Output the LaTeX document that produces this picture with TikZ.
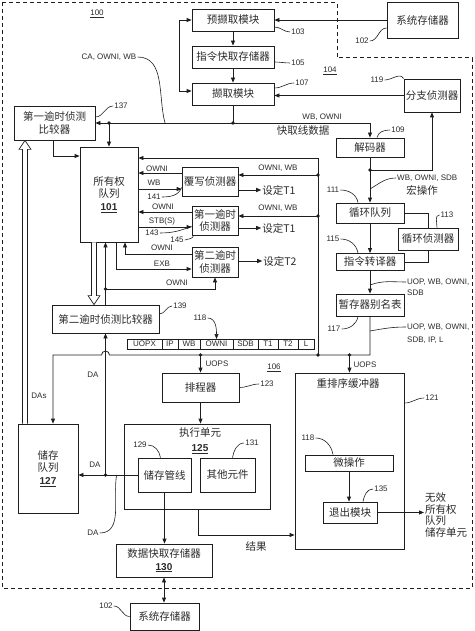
\documentclass[tikz,border=0pt]{standalone}
\usepackage{fontspec}
\setmainfont{Liberation Sans}
\newfontfamily\cjk{Noto Sans CJK SC}
\usepackage{tikz}
\usetikzlibrary{arrows.meta,calc,positioning}
\definecolor{linecolor}{HTML}{1E1E1E}
\definecolor{textcolor}{HTML}{2A2A2A}
\tikzstyle{unit} =[
    draw=linecolor,
    line width=0.8pt,
    rectangle,
    inner sep=1pt,
    text=textcolor,
    align=center,
    font=\cjk\fontsize{10.5}{12.5}\selectfont
    ]
\tikzstyle{cell} =[
    draw=linecolor,
    line width=0.6pt,
    rectangle,
    inner sep=0pt,
    outer sep=0pt,
    minimum height=10pt,
    text=textcolor,
    font=\fontsize{8}{9}\selectfont
    ]
\tikzstyle{sig} =[
    inner sep=1pt,
    text=textcolor,
    font=\fontsize{8}{9.5}\selectfont
    ]
\tikzstyle{zh} =[
    inner sep=1pt,
    text=textcolor,
    font=\cjk\fontsize{10.5}{11.5}\selectfont
    ]
\tikzstyle{wire} =[draw=linecolor, line width=0.8pt]
\tikzstyle{leader} =[draw=linecolor, line width=0.6pt]
\newcommand{\hollowarrow}[3]{% tail, tip, head offset
\draw[linecolor, line width=0.7pt, fill=white]
    ($(#1)+(-2.5pt,0)$) -- ($(#2)+(-2.5pt,#3)$) -- ($(#2)+(-6pt,#3)$) -- (#2)
    -- ($(#2)+(6pt,#3)$) -- ($(#2)+(2.5pt,#3)$) -- ($(#1)+(2.5pt,0)$);
}

\begin{document}
\begin{tikzpicture}[x=1pt, y=-1pt, >={Triangle[length=5pt,width=4pt]}]
\useasboundingbox (0,0) rectangle (474,631);

% outer regions
\draw[linecolor, line width=1pt, dash pattern=on 4pt off 3pt]
    (2,3) -- (337,3) -- (337,58) -- (472,58) -- (472,588) -- (2,588) -- cycle;
\node[sig] (reg100) at (97,14) {\underline{100}};
\node[sig] (reg104) at (330,71) {\underline{104}};
\node[sig] (reg106) at (274,368) {\underline{106}};

% front end
\node[unit, minimum width=82pt, minimum height=22pt] (prefetch) at (233,20) {预撷取模块};
\node[unit, minimum width=71pt, minimum height=36pt] (sysmemtop) at (422.5,20) {系统存储器};
\node[unit, minimum width=82pt, minimum height=22pt] (icache) at (233,57) {指令快取存储器};
\node[unit, minimum width=82pt, minimum height=22pt] (fetch) at (233,94) {撷取模块};
\node[unit, minimum width=56pt, minimum height=33pt] (branch) at (432,95.5) {分支侦测器};
\node[unit, minimum width=68pt, minimum height=19pt] (decoder) at (370,147.5) {解码器};
\node[unit, minimum width=68pt, minimum height=20pt] (loopq) at (370,213) {循环队列};
\node[unit, minimum width=60pt, minimum height=22pt] (loopdet) at (428,239) {循环侦测器};
\node[unit, minimum width=68pt, minimum height=17pt] (xlat) at (370,262) {指令转译器};
\node[unit, minimum width=68pt, minimum height=22pt] (rat) at (370,305) {暂存器别名表};

% ownership queue and detectors
\node[unit, minimum width=81pt, minimum height=34pt] (cmpone) at (54.5,123) {第一逾时侦测\\比较器};
\node[unit, minimum width=58pt, minimum height=95pt] (ownq) at (109,194.5) {所有权\\队列\\{\normalfont\bfseries\fontsize{10}{12.5}\selectfont\underline{101}}};
\node[unit, minimum width=56pt, minimum height=29pt] (overwr) at (210,181.5) {覆写侦测器};
\node[unit, minimum width=46pt, minimum height=29pt] (tmoone) at (215,220.5) {第一逾时\\侦测器};
\node[unit, minimum width=46pt, minimum height=30pt] (tmotwo) at (215,262) {第二逾时\\侦测器};
\node[unit, minimum width=107pt, minimum height=28pt] (cmptwo) at (105.5,319) {第二逾时侦测比较器};

% uop table
\node[cell, minimum width=35pt, anchor=west] (uopx) at (127,344) {UOPX};
\node[cell, minimum width=16pt, right=0pt of uopx] (ip) {IP};
\node[cell, minimum width=22pt, right=0pt of ip] (wb) {WB};
\node[cell, minimum width=33pt, right=0pt of wb] (owni) {OWNI};
\node[cell, minimum width=25pt, right=0pt of owni] (sdb) {SDB};
\node[cell, minimum width=20pt, right=0pt of sdb] (tone) {T1};
\node[cell, minimum width=20pt, right=0pt of tone] (ttwo) {T2};
\node[cell, minimum width=16pt, right=0pt of ttwo] (lcell) {L};

% back end
\node[unit, minimum width=77pt, minimum height=29pt] (sched) at (200.5,387.5) {排程器};
\node[unit, minimum width=146pt, minimum height=85pt] (exec) at (197,466.5) {};
\node[zh] (exectitle) at (200,433) {执行单元};
\node[sig, font=\bfseries\fontsize{10}{12}\selectfont] (execnum) at (200,449) {\underline{125}};
\node[unit, minimum width=53pt, minimum height=34pt] (stpipe) at (164.5,475) {储存管线};
\node[unit, minimum width=55pt, minimum height=34pt] (other) at (227.5,475) {其他元件};
\node[unit, minimum width=96pt, minimum height=33pt] (dcache) at (164,560.5) {数据快取存储器\\{\normalfont\bfseries\fontsize{10}{12.5}\selectfont\underline{130}}};
\node[unit, minimum width=69pt, minimum height=27pt] (sysmembot) at (164.5,616.5) {系统存储器};
\node[unit, minimum width=60pt, minimum height=89pt] (stq) at (48,468.5) {储存\\队列\\{\normalfont\bfseries\fontsize{10}{12.5}\selectfont\underline{127}}};
\node[unit, minimum width=109pt, minimum height=176pt] (rob) at (349.5,461) {};
\node[zh] (robtitle) at (348,383) {重排序缓冲器};
\node[unit, minimum width=88pt, minimum height=16pt] (uop) at (349,463) {微操作};
\node[unit, minimum width=54pt, minimum height=21pt] (retire) at (350,512.5) {退出模块};
\node[zh, anchor=west, align=left] (invalid) at (424,515) {无效\\所有权\\队列\\储存单元};

% hollow arrows
\hollowarrow{25,0 |- stq.north}{25,0 |- cmpone.south}{-9pt}
\hollowarrow{94,0 |- ownq.south}{94,0 |- cmptwo.north}{9pt}

% fetch path
\draw[wire,->] (sysmemtop) -- (prefetch);
\draw[wire,->] (prefetch) -- (icache);
\draw[wire,->] (icache) -- (fetch);
\draw[wire,<->] (prefetch.west) -- ++(-12,0) |- ([yshift=3pt]fetch.west);
\draw[wire,->] (branch.west) -- (branch.west -| fetch.east);
\coordinate (fetchjoin) at (fetch.south |- 0,123);
\coordinate (ownjoin) at (ownq.north |- 0,123);
\draw[wire] (fetch.south) -- (fetchjoin);
\draw[wire,->] (fetchjoin) -- (fetchjoin -| cmpone.east);
\draw[wire,->] (fetchjoin) -| (decoder.north);
\draw[wire,->] (ownjoin) -- (ownq.north);
\fill[linecolor] (fetchjoin) circle (1.8pt) (ownjoin) circle (1.8pt);
\node[sig] (wbownitop) at (322,117) {WB, OWNI};
\node[zh] (linedata) at (303,131) {快取线数据};
\node[sig] (caowni) at (109,57) {CA, OWNI, WB};
\coordinate (catap) at (165,123);
\draw[leader] (caowni.east) to[out=0,in=105] (catap);

% decode path
\coordinate (decjoin) at (decoder.south |- 0,170);
\draw[wire] (decoder.south) -- (decjoin);
\draw[wire,->] (decjoin) -| (branch.south);
\draw[wire,->] (decjoin) -- (loopq.north);
\fill[linecolor] (decjoin) circle (1.8pt);
\draw[wire] (loopq.east) -| (loopdet.north);
\draw[wire] (loopdet.south) |- (xlat.east);
\draw[wire,->] (loopq.south) -- (xlat.north);
\draw[wire,->] (xlat.south) -- (rat.north);
\coordinate (dltap) at (loopq.north |- 0,189);
\node[sig, anchor=west] (wbownisdb) at (396,178) {WB, OWNI, SDB};
\node[zh] (macroop) at (422,190) {宏操作};
\draw[leader] (dltap) to[out=30,in=180] (wbownisdb.west);
\coordinate (xrtap) at (xlat.south |- 0,285);
\node[sig, anchor=west] (uopwba) at (406,282) {UOP, WB, OWNI,};
\node[sig, anchor=west] (uopwbb) at (406,293) {SDB};
\draw[leader] (xrtap) to[out=20,in=180] (uopwba.west);

% uop bus
\coordinate (busdrop) at (rat.south |- 0,355);
\coordinate (feedjoin) at (318,355);
\coordinate (robjoin) at (rob.north |- 0,355);
\coordinate (schedjoin) at (sched.north |- 0,355);
\coordinate (dasjoin) at (53,355);
\coordinate (hopright) at ($(cmptwo.south |- 0,355)+(4pt,0)$);
\draw[wire,->] (rat.south) |- (hopright) arc[start angle=0, end angle=180, radius=4pt]
    -- (dasjoin) -- (dasjoin |- stq.north);
\coordinate (rattap) at (rat.south |- 0,331);
\node[sig, anchor=west] (uopwbc) at (406,327) {UOP, WB, OWNI,};
\node[sig, anchor=west] (uopwbd) at (406,340) {SDB, IP, L};
\draw[leader] (rattap) to[out=10,in=180] (uopwbc.west);
\draw[wire,->] (robjoin) -- (rob.north);
\draw[wire,->] (schedjoin) -- (sched.north);
\fill[linecolor] (feedjoin) circle (1.8pt) (robjoin) circle (1.8pt) (schedjoin) circle (1.8pt);
\node[sig] (uopsa) at (217,364) {UOPS};
\node[sig] (uopsb) at (365,365) {UOPS};
\node[sig] (dasig) at (39,396) {DAs};

% feedback to detectors
\coordinate (ovrtap) at (feedjoin |- 0,175);
\coordinate (tmotap) at (feedjoin |- 0,216);
\draw[wire,->] (feedjoin) |- (ownq.east |- 0,158);
\draw[wire,->] (ovrtap) -- (ovrtap -| overwr.east);
\draw[wire,->] (tmotap) -- (tmotap -| tmoone.east);
\fill[linecolor] (ovrtap) circle (1.8pt) (tmotap) circle (1.8pt);
\node[sig] (owniwba) at (278,168) {OWNI, WB};
\node[sig] (owniwbb) at (278,208) {OWNI, WB};

\draw[wire,->] (overwr.west |- 0,173) -- (ownq.east |- 0,173);
\draw[wire,->] (ownq.east |- 0,189) -- (overwr.west |- 0,189);
\draw[wire,->] (tmoone.west |- 0,212) -- (ownq.east |- 0,212);
\draw[wire,->] (ownq.east |- 0,227) -- (tmoone.west |- 0,227);
\draw[wire,->] (tmotwo.west |- 0,254) -| ([xshift=16pt]ownq.south);
\draw[wire,->] ([xshift=7pt]ownq.south) |- (tmotwo.west |- 0,269);
\node[sig] (owniA) at (157,169) {OWNI};
\node[sig] (wbA) at (154,183) {WB};
\node[sig] (owniB) at (163,207) {OWNI};
\node[sig] (stbs) at (162,221) {STB(S)};
\node[sig] (owniC) at (162,248) {OWNI};
\node[sig] (exb) at (162,264) {EXB};
\node[zh] (setone) at (279,190) {设定T1};
\node[zh] (settwo) at (279,228) {设定T1};
\node[zh] (setthree) at (280,261) {设定T2};
\draw[wire,->] (overwr.east |- setone) -- (setone.west);
\draw[wire,->] (tmoone.east |- settwo) -- (settwo.west);
\draw[wire,->] (tmotwo.east |- setthree) -- (setthree.west);

\draw[wire,->] ([xshift=-1.5pt]cmpone.south) |- (ownq.west |- 0,156);
\coordinate (cmpjoin) at (cmptwo.north |- 0,289);
\draw[wire,->] (cmptwo.north) -- (cmptwo.north |- ownq.south);
\draw[wire,->] (cmpjoin) -| (tmotwo.south);
\fill[linecolor] (cmpjoin) circle (1.8pt);
\node[sig] (owniD) at (177,283) {OWNI};

% execution
\draw[wire,->] (sched.south) -- (sched.south |- exec.north);
\coordinate (dajoin) at (cmptwo.south |- stpipe.west);
\draw[wire,->] (stpipe.west) -- (stpipe.west -| stq.east);
\draw[wire,->] (dajoin) -- (cmptwo.south);
\fill[linecolor] (dajoin) circle (1.8pt);
\node[sig] (daup) at (93,375) {DA};
\node[sig] (dalow) at (95,465) {DA};
\coordinate (datap) at ([xshift=-21pt]stpipe.west);
\node[sig] (daleader) at (93,533) {DA};
\draw[leader] (datap) to[out=260,in=0] (daleader.east);
\draw[wire,->] (stpipe.south) -- (stpipe.south |- dcache.north);
\draw[wire,<->] (dcache.south) -- (dcache.south |- sysmembot.north);
\draw[wire,->] ([xshift=1pt]exec.south) |- (rob.west |- 0,535);
\node[zh] (result) at (256,546) {结果};
\draw[wire,->] (uop.south) -- (uop.south |- retire.north);
\draw[wire,->] (retire.east) -- (retire.east -| invalid.west);

% reference numerals
\node[sig] (n102a) at (362,41) {102};
\draw[leader] (n102a.east) to[out=0,in=180] ([yshift=-8pt]sysmemtop.west);
\node[sig] (n103) at (298,32) {103};
\draw[leader] ([yshift=-7pt]prefetch.east) to[out=0,in=180] (n103.west);
\node[sig] (n105) at (298,63) {105};
\draw[leader] ([yshift=-5pt]icache.east) to[out=0,in=180] (n105.west);
\node[sig] (n107) at (302,83) {107};
\draw[leader] ([yshift=6pt]fetch.east) to[out=0,in=180] (n107.west);
\node[sig] (n119) at (377,80) {119};
\draw[leader] (n119.east) to[out=0,in=120] (branch.north west);
\node[sig] (n109) at (398,130) {109};
\draw[leader] ([xshift=7pt]decoder.north) to[out=80,in=180] (n109.west);
\node[sig] (n137) at (121,106) {137};
\draw[leader] ([yshift=6pt]cmpone.east) to[out=0,in=180] (n137.west);
\node[sig] (n141) at (154,197) {141};
\draw[leader] (n141.east) to[out=0,in=250] ([yshift=-6pt]overwr.west);
\node[sig] (n143) at (152,233) {143};
\draw[leader] (n143.east) to[out=0,in=200] ([yshift=-6pt]tmoone.west);
\node[sig] (n145) at (177,240) {145};
\draw[leader] (n145.east) to[out=20,in=260] ([xshift=2pt]tmoone.south west);
\node[sig] (n111) at (333,190) {111};
\draw[leader] (n111.east) to[out=0,in=100] ([xshift=-12pt]loopq.north);
\node[sig] (n113) at (447,215) {113};
\draw[leader] (n113.west) to[out=180,in=90] ([xshift=9pt]loopdet.north);
\node[sig] (n115) at (333,239) {115};
\draw[leader] (n115.east) to[out=0,in=100] ([xshift=-12pt]xlat.north);
\node[sig] (n117) at (334,329) {117};
\draw[leader] (n117.east) to[out=0,in=260] ([xshift=-12pt]rat.south);
\node[sig] (n139) at (180,306) {139};
\draw[leader] ([yshift=5pt]cmptwo.east) to[out=0,in=180] (n139.west);
\node[sig] (n118a) at (200,318) {118};
\draw[leader,->] (n118a.east) to[out=0,in=90] (owni.north);
\node[sig] (n123) at (267,384) {123};
\draw[leader] (sched.east) to[out=0,in=180] (n123.west);
\node[sig] (n121) at (432,398) {121};
\draw[leader] ([yshift=58pt]rob.east) to[out=0,in=180] (n121.west);
\node[sig] (n129) at (140,445) {129};
\draw[leader] (n129.east) to[out=0,in=100] ([xshift=-4pt]stpipe.north);
\node[sig] (n131) at (252,443) {131};
\draw[leader] (n131.west) to[out=180,in=80] ([xshift=5pt]other.north);
\node[sig] (n118b) at (308,438) {118};
\draw[leader] (n118b.east) to[out=0,in=100] ([xshift=-16pt]uop.north);
\node[sig] (n135) at (381,489) {135};
\draw[leader] (n135.west) to[out=180,in=80] ([xshift=13pt]retire.north);
\node[sig] (n102b) at (106,606) {102};
\draw[leader] (n102b.east) to[out=0,in=180] (sysmembot.west);
\end{tikzpicture}
\end{document}
